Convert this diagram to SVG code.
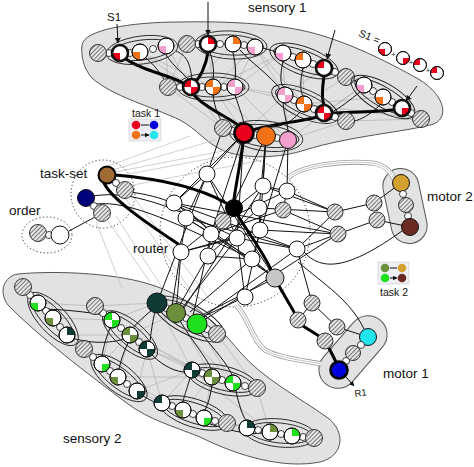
<svg xmlns="http://www.w3.org/2000/svg" width="474" height="467" viewBox="0 0 474 467">
<defs>
<pattern id="hatch" patternUnits="userSpaceOnUse" width="3" height="3" patternTransform="rotate(45)"><rect width="3" height="3" fill="#e6e6e6"/><line x1="0.5" y1="0" x2="0.5" y2="3" stroke="#777" stroke-width="1"/></pattern>
<marker id="ah" viewBox="0 0 10 10" refX="9" refY="5" markerWidth="6" markerHeight="6" orient="auto"><path d="M0,0 L10,5 L0,10 Z" fill="#111"/></marker>
<marker id="ahs" viewBox="0 0 10 10" refX="9" refY="5" markerWidth="5" markerHeight="5" orient="auto"><path d="M0,0 L10,5 L0,10 Z" fill="#111"/></marker>
<path id="qbr" d="M0,0H8A8,8 0 0 1 0,8Z"/>
<path id="qbl" d="M0,0V8A8,8 0 0 1 -8,0Z"/>
<path id="qtl" d="M0,0H-8A8,8 0 0 1 0,-8Z"/>
<path id="qtr" d="M0,0V-8A8,8 0 0 1 8,0Z"/>
<path id="sbr" d="M0,0H6.5A6.5,6.5 0 0 1 0,6.5Z"/>
<path id="sbl" d="M0,0V6.5A6.5,6.5 0 0 1 -6.5,0Z"/>
<path id="stl" d="M0,0H-6.5A6.5,6.5 0 0 1 0,-6.5Z"/>
<path id="str" d="M0,0V-6.5A6.5,6.5 0 0 1 6.5,0Z"/>
</defs>
<style>
.bl{fill:#e2e2e2;stroke:#555;stroke-width:1}
.dot{fill:none;stroke:#333;stroke-width:1;stroke-dasharray:1.2 2.4}
.g{fill:none;stroke:#a8a8a8;stroke-width:.6}
.lg{fill:none;stroke:#c4c4c4;stroke-width:.8}
.k{fill:none;stroke:#111;stroke-width:1}
.tk{fill:none;stroke:#000;stroke-width:3;stroke-linecap:round}
.tr1{fill:none;stroke:#9a9a9a;stroke-width:5}
.tr2{fill:none;stroke:#fff;stroke-width:3.4}
.tr3{fill:none;stroke:#aaa;stroke-width:.7}
.ring{fill:none;stroke:#222;stroke-width:.9}
.n{fill:#fff;stroke:#111;stroke-width:1}
.h{fill:url(#hatch);stroke:#333;stroke-width:1}
.o{fill:none;stroke:#111;stroke-width:1}
.t{stroke-width:2.6}
.s{fill:#fff;stroke:#111;stroke-width:.8}
.red{fill:#e8001c}.org{fill:#f47216}.pnk{fill:#f4a0cf}
.grn{fill:#1fe01f}.olv{fill:#6b8f3a}.dk{fill:#0f3b36}
.lbl{font-family:"Liberation Sans",Arial,sans-serif;font-size:13.5px;fill:#111}
.sm{font-family:"Liberation Sans",Arial,sans-serif;font-size:10.5px;fill:#111}
</style>

<!-- background regions -->
<g id="region-sensory1"><path class="bl" d="M82,45 C84,30 130,22 180,22 C230,21 270,24 300,30 C340,38 385,60 420,80 C440,92 452,115 434,124 C405,132 350,136 305,150 C280,158 245,160 222,150 C205,142 198,130 180,120 C150,106 112,96 92,78 C83,68 81,55 82,45 Z"/></g>
<g id="region-sensory2"><path class="bl" d="M18,274 C60,270 120,274 152,285 C190,297 215,322 240,352 C262,378 300,398 328,418 C346,432 344,456 320,462 C285,469 240,457 200,437 C170,425 150,420 128,404 C88,374 38,336 8,305 C-2,292 4,276 18,274 Z"/></g>
<g id="region-motor2"><rect class="bl" x="-18" y="-38" width="36" height="76" rx="18" transform="translate(405,206) rotate(-12)"/></g>
<g id="region-motor1"><rect class="bl" x="-19" y="-42" width="38" height="84" rx="19" transform="translate(353,352) rotate(41)"/></g>
<g id="region-router"><circle class="dot" cx="235" cy="232" r="75"/></g>
<g id="region-taskset"><ellipse class="dot" cx="103" cy="194" rx="32" ry="34"/></g>
<g id="region-order"><ellipse class="dot" cx="47" cy="235" rx="25" ry="18"/></g>

<g id="connectors">
<path class="tr1" d="M288,178 C300,166 340,160 372,163 C386,165 391,172 394,179"/>
<path class="tr2" d="M288,178 C300,166 340,160 372,163 C386,165 391,172 394,179"/>
<path class="tr3" d="M288,178 C300,166 340,160 372,163 C386,165 391,172 394,179"/>
<path class="tr1" d="M236,305 C250,320 252,340 265,350 C280,358 300,360 322,364"/>
<path class="tr2" d="M236,305 C250,320 252,340 265,350 C280,358 300,360 322,364"/>
<path class="tr3" d="M236,305 C250,320 252,340 265,350 C280,358 300,360 322,364"/>
<path class="lg" d="M112,170 L215,140 M115,172 L228,150 M118,176 L245,152 M108,166 L190,136 M128,186 L262,160"/>
<path class="lg" d="M108,221 L150,282 M116,216 L165,292 M126,199 L192,292 M96,222 L122,288 M132,195 L210,300"/>
<path class="g" d="M166,46 L168,87 M166,46 L191,87 M140,52 L213,87 M140,52 L191,87 M187,44 L168,87 M208,44 L213,87 M233,44 L191,87 M233,44 L235,87 M255,47 L235,87 M255,47 L213,87 M255,47 L283,53 M255,47 L285,95 M235,87 L285,95 M235,87 L283,53 M235,87 L304,104 M213,87 L266,136 M235,87 L288,140 M191,87 L223,128 M213,87 L244,133 M283,53 L285,95 M303,60 L304,104 M324,68 L285,95 M346,77 L364,85 M346,77 L304,104 M346,121 L421,119 M324,113 L364,85 M304,104 L383,97 M324,68 L383,97 M285,95 L288,140 M304,104 L266,136 M285,95 L244,133 M364,85 L288,140 M346,121 L288,140 M168,87 L223,128 M187,44 L166,46 M303,60 L364,85 M283,53 L213,87 M255,47 L304,104 M324,113 L402,108 M304,104 L421,119"/>
<path class="k" d="M146,58 C160,70 162,78 165,80 M166,55 C175,68 185,75 189,80 M210,52 C214,65 214,75 213,79 M233,53 C236,65 236,75 235,79 M263,48 C270,50 274,51 276,52 M213,95 C215,110 219,116 221,120 M235,95 C240,110 243,118 244,124 M283,61 C280,75 280,85 284,87 M303,68 C300,80 300,92 303,96 M283,103 C285,120 288,125 288,132 M300,112 C290,125 275,128 268,127 M360,92 C350,100 340,108 332,112 M380,105 C370,115 360,120 354,121 M354,80 C358,83 360,82 361,78 M240,50 C250,62 270,75 281,90 M176,51 C185,55 190,60 192,80"/>
<path class="k" d="M223,128 L207,174 M244,133 L207,174 M244,133 L174,203 M244,133 L211,234 M244,133 L237,238 M266,136 L263,186 M266,136 L259,208 M266,136 L260,230 M266,136 L208,256 M288,140 L287,191 M288,140 L252,259 M207,174 L174,203 M207,174 L237,238 M207,174 L275,278 M207,174 L186,218 M263,186 L335,212 M263,186 L287,191 M263,186 L181,252 M287,191 L335,212 M287,191 L223,221 M287,191 L283,210 M174,203 L186,218 M174,203 L338,234 M174,203 L275,278 M186,218 L211,234 M186,218 L297,249 M186,218 L252,259 M259,208 L335,212 M259,208 L208,256 M259,208 L260,230 M283,210 L338,234 M283,210 L211,234 M260,230 L338,234 M260,230 L245,297 M260,230 L181,252 M211,234 L275,278 M211,234 L208,256 M237,238 L297,249 M237,238 L245,297 M237,238 L181,252 M208,256 L252,259 M252,259 L275,278 M297,249 L335,212 M297,249 L312,303 M297,249 L338,234 M223,221 L297,249 M174,203 L223,221"/>
<path class="k" d="M181,252 L176,313 M208,256 L178,308 M252,259 L190,312 M275,278 L196,318 M245,297 L200,318 M237,238 L183,307 M211,234 L193,316 M297,249 L199,320 M186,218 L172,306 M263,186 L184,308 M207,174 L157,303 M338,234 L201,322"/>
<path class="k" d="M335,212 L374,203 M338,234 L377,220 M374,203 L401,183 M377,220 L410,227 M300,247 C320,275 350,268 402,231 M298,262 C325,285 350,300 364,329 M312,303 L337,327 M337,327 L368,337 M312,303 L298,320"/>
<path class="k" d="M69,231 L95,217 M93,196 C130,190 170,205 237,238 M96,204 C130,200 180,225 252,259 M130,192 C160,196 190,205 211,234"/>
<path class="g" d="M38,303 L95,306 M53,318 L112,320 M67,335 L130,335 M67,335 L84,349 M53,318 L102,364 M112,320 L102,364 M130,335 L118,377 M147,349 L137,391 M95,306 L157,303 M112,320 L157,303 M130,335 L176,313 M147,349 L192,370 M137,391 L192,370 M137,391 L162,403 M147,349 L162,403 M118,377 L212,377 M157,303 L192,370 M176,313 L212,377 M197,324 L233,383 M217,334 L257,388 M192,370 L162,403 M212,377 L183,410 M233,383 L247,428 M257,388 L270,432 M183,410 L247,428 M204,418 L270,432 M227,423 L292,436 M212,377 L204,418 M102,364 L157,303 M112,320 L192,370 M130,335 L212,377 M118,377 L183,410 M147,349 L233,383 M192,370 L270,432 M157,303 L233,383"/>
<path class="k" d="M152,355 C165,368 178,372 185,372 M150,341 C152,325 154,315 155,312 M143,396 C150,400 154,402 155,402 M152,310 C140,320 135,325 133,328 M190,378 C185,395 183,400 183,402 M212,385 C210,400 206,408 205,410 M236,391 C240,410 244,418 246,420 M210,424 C235,432 250,435 262,433 M180,321 C195,345 208,360 211,369 M200,332 C215,350 228,365 232,375 M110,328 C105,340 103,350 102,356 M128,343 C122,355 120,365 119,369 M72,338 C95,345 115,342 124,339 M45,309 C70,310 85,312 105,315"/>
<path class="tk" d="M126,59 C140,70 170,75 185,84"/>
<path class="tk" d="M208,52 C206,66 200,78 194,83"/>
<path class="tk" d="M194,95 C205,108 230,118 239,126"/>
<path class="tk" d="M324,76 C322,90 322,100 324,105"/>
<path class="tk" d="M394,110 C375,112 350,112 332,113"/>
<path class="tk" d="M317,117 C300,122 270,124 253,130"/>
<path class="tk" d="M243,143 C240,165 236,185 234,199"/>
<path class="tk" d="M238,216 C250,235 265,255 271,270"/>
<path class="tk" d="M279,286 L294,312 M303,326 L319,336 M329,348 L336,362"/>
<path class="tk" d="M115,175 C150,178 195,185 226,203"/>
<path class="tk" d="M104,183 C112,200 150,225 178,244"/>
<path class="k" d="M117,24 L118,43" marker-end="url(#ah)"/>
<path class="k" d="M208,2 L208,35" marker-end="url(#ah)"/>
<path class="k" d="M335,30 L327,59" marker-end="url(#ah)"/>
<path class="k" d="M417,86 L406,101" marker-end="url(#ah)"/>
<path class="k" d="M346,377 L354,386" marker-end="url(#ahs)"/>
</g>

<g id="cluster-A">
<ellipse class="ring" cx="142" cy="50" rx="32" ry="10" transform="rotate(-7 142 50)"/><ellipse class="ring" cx="142" cy="50" rx="36" ry="14" transform="rotate(-7 142 50)"/>
<circle class="s" cx="109" cy="53" r="3.5"/><circle class="s" cx="130" cy="53" r="3.5"/><circle class="s" cx="153" cy="49" r="3.5"/>
<g id="A0"><circle class="h" cx="98" cy="53" r="8.5"/></g>
<g id="A1"><circle class="n" cx="120" cy="53" r="8"/><use href="#qbl" x="120" y="53" class="red"/><circle class="o t" cx="120" cy="53" r="8"/></g>
<g id="A2"><circle class="n" cx="140" cy="52" r="8"/><use href="#qbl" x="140" y="52" class="org"/><circle class="o" cx="140" cy="52" r="8"/></g>
<g id="A3"><circle class="n" cx="166" cy="46" r="8"/><use href="#qbl" x="166" y="46" class="pnk"/><circle class="o" cx="166" cy="46" r="8"/></g>
</g>
<g id="cluster-B">
<ellipse class="ring" cx="231" cy="45" rx="32" ry="10" transform="rotate(3 231 45)"/><ellipse class="ring" cx="231" cy="45" rx="36" ry="14" transform="rotate(3 231 45)"/>
<circle class="s" cx="198" cy="44" r="3.5"/><circle class="s" cx="220" cy="44" r="3.5"/><circle class="s" cx="244" cy="45" r="3.5"/>
<g id="B0"><circle class="h" cx="187" cy="44" r="8.5"/></g>
<g id="B1"><circle class="n" cx="208" cy="44" r="8"/><use href="#qtr" x="208" y="44" class="red"/><circle class="o t" cx="208" cy="44" r="8"/></g>
<g id="B2"><circle class="n" cx="233" cy="44" r="8"/><use href="#qtr" x="233" y="44" class="org"/><circle class="o" cx="233" cy="44" r="8"/></g>
<g id="B3"><circle class="n" cx="255" cy="47" r="8"/><use href="#qbl" x="255" y="47" class="pnk"/><circle class="o" cx="255" cy="47" r="8"/></g>
</g>
<g id="cluster-C">
<ellipse class="ring" cx="213" cy="87" rx="32" ry="10"/><ellipse class="ring" cx="213" cy="87" rx="36" ry="14"/>
<circle class="s" cx="180" cy="87" r="3.5"/><circle class="s" cx="202" cy="87" r="3.5"/><circle class="s" cx="224" cy="87" r="3.5"/>
<g id="C0"><circle class="h" cx="168" cy="87" r="8.5"/></g>
<g id="C1"><circle class="n" cx="191" cy="87" r="8"/><use href="#qtl" x="191" y="87" class="red"/><use href="#qbr" x="191" y="87" class="red"/><circle class="o t" cx="191" cy="87" r="8"/></g>
<g id="C2"><circle class="n" cx="213" cy="87" r="8"/><use href="#qtl" x="213" y="87" class="org"/><use href="#qbr" x="213" y="87" class="org"/><circle class="o" cx="213" cy="87" r="8"/></g>
<g id="C3"><circle class="n" cx="235" cy="87" r="8"/><use href="#qtl" x="235" y="87" class="pnk"/><use href="#qbr" x="235" y="87" class="pnk"/><circle class="o" cx="235" cy="87" r="8"/></g>
</g>
<g id="cluster-D">
<ellipse class="ring" cx="266" cy="136" rx="33" ry="11" transform="rotate(7 266 136)"/><ellipse class="ring" cx="266" cy="136" rx="37" ry="15" transform="rotate(7 266 136)"/>
<circle class="s" cx="233" cy="131" r="3.5"/><circle class="s" cx="255" cy="135" r="3.5"/><circle class="s" cx="277" cy="138" r="3.5"/>
<g id="D0"><circle class="h" cx="223" cy="128" r="8.5"/></g>
<g id="D1"><circle class="red" cx="244" cy="133" r="9.5" stroke="#000" stroke-width="2.6"/></g>
<g id="D2"><circle class="org" cx="266" cy="136" r="9.5" stroke="#111" stroke-width="1"/></g>
<g id="D3"><circle class="pnk" cx="288" cy="140" r="8.5" stroke="#111" stroke-width="1"/></g>
</g>
<g id="cluster-E">
<ellipse class="ring" cx="304" cy="61" rx="32" ry="10" transform="rotate(20 304 61)"/><ellipse class="ring" cx="304" cy="61" rx="36" ry="14" transform="rotate(20 304 61)"/>
<circle class="s" cx="293" cy="57" r="3.5"/><circle class="s" cx="313" cy="64" r="3.5"/><circle class="s" cx="335" cy="72" r="3.5"/>
<g id="E0"><circle class="h" cx="346" cy="77" r="8.5"/></g>
<g id="E1"><circle class="n" cx="324" cy="68" r="8"/><use href="#qtl" x="324" y="68" class="red"/><circle class="o t" cx="324" cy="68" r="8"/></g>
<g id="E2"><circle class="n" cx="303" cy="60" r="8"/><use href="#qtl" x="303" y="60" class="org"/><circle class="o" cx="303" cy="60" r="8"/></g>
<g id="E3"><circle class="n" cx="283" cy="53" r="8"/><use href="#qbl" x="283" y="53" class="pnk"/><circle class="o" cx="283" cy="53" r="8"/></g>
</g>
<g id="cluster-F">
<ellipse class="ring" cx="305" cy="104" rx="32" ry="10" transform="rotate(24 305 104)"/><ellipse class="ring" cx="305" cy="104" rx="36" ry="14" transform="rotate(24 305 104)"/>
<circle class="s" cx="294" cy="100" r="3.5"/><circle class="s" cx="314" cy="109" r="3.5"/><circle class="s" cx="335" cy="117" r="3.5"/>
<g id="F0"><circle class="h" cx="346" cy="121" r="8.5"/></g>
<g id="F1"><circle class="n" cx="324" cy="113" r="8"/><use href="#qtl" x="324" y="113" class="red"/><use href="#qbr" x="324" y="113" class="red"/><circle class="o t" cx="324" cy="113" r="8"/></g>
<g id="F2"><circle class="n" cx="304" cy="104" r="8"/><use href="#qtl" x="304" y="104" class="org"/><use href="#qbr" x="304" y="104" class="org"/><circle class="o" cx="304" cy="104" r="8"/></g>
<g id="F3"><circle class="n" cx="285" cy="95" r="8"/><use href="#qtl" x="285" y="95" class="pnk"/><use href="#qbr" x="285" y="95" class="pnk"/><circle class="o" cx="285" cy="95" r="8"/></g>
</g>
<g id="cluster-G">
<ellipse class="ring" cx="383" cy="97" rx="32" ry="10" transform="rotate(30 383 97)"/><ellipse class="ring" cx="383" cy="97" rx="36" ry="14" transform="rotate(30 383 97)"/>
<circle class="s" cx="373" cy="91" r="3.5"/><circle class="s" cx="392" cy="102" r="3.5"/><circle class="s" cx="411" cy="113" r="3.5"/>
<g id="G0"><circle class="h" cx="421" cy="119" r="8.5"/></g>
<g id="G1"><circle class="n" cx="402" cy="108" r="8"/><use href="#qbr" x="402" y="108" class="red"/><circle class="o t" cx="402" cy="108" r="8"/></g>
<g id="G2"><circle class="n" cx="383" cy="97" r="8"/><use href="#qbl" x="383" y="97" class="org"/><circle class="o" cx="383" cy="97" r="8"/></g>
<g id="G3"><circle class="n" cx="364" cy="85" r="8"/><use href="#qbl" x="364" y="85" class="pnk"/><circle class="o" cx="364" cy="85" r="8"/></g>
</g>

<g id="S1-seq">
<g id="S1-1"><circle class="n" cx="385" cy="49" r="6.5"/><use href="#sbl" x="385" y="49" class="red"/><circle class="o" cx="385" cy="49" r="6.5"/></g>
<g id="S1-2"><circle class="n" cx="403" cy="58" r="6.5"/><use href="#sbr" x="403" y="58" class="red"/><circle class="o" cx="403" cy="58" r="6.5"/></g>
<g id="S1-3"><circle class="n" cx="420" cy="65" r="6.5"/><use href="#stl" x="420" y="65" class="red"/><circle class="o" cx="420" cy="65" r="6.5"/></g>
<g id="S1-4"><circle class="n" cx="437" cy="73" r="6.5"/><use href="#stl" x="437" y="73" class="red"/><circle class="o" cx="437" cy="73" r="6.5"/></g>
<text class="sm" style="font-size:7px" x="391.5" y="57">+</text>
<text class="sm" style="font-size:7px" x="409" y="65">+</text>
<text class="sm" style="font-size:7px" x="426" y="73">+</text>
</g>

<g id="taskset-brown"><circle cx="107" cy="175" r="8.5" fill="#a06a35" stroke="#000" stroke-width="2"/></g>
<g id="taskset-s1"><circle class="s" cx="116" cy="183" r="3.5"/></g>
<g id="taskset-h1"><circle class="h" cx="125" cy="190" r="8.5"/></g>
<g id="taskset-navy"><circle cx="86" cy="198" r="8.5" fill="#00007a" stroke="#111" stroke-width="1"/></g>
<g id="taskset-s2"><circle class="s" cx="94" cy="206" r="3.5"/></g>
<g id="taskset-h2"><circle class="h" cx="102" cy="213" r="8.5"/></g>
<g id="order-h"><circle class="h" cx="38" cy="233" r="8.5"/></g>
<g id="order-s"><circle class="s" cx="49" cy="235" r="3.5"/></g>
<g id="order-w"><circle class="n" cx="60" cy="235" r="9"/></g>

<g id="r1"><circle class="n" cx="207" cy="174" r="8"/></g>
<g id="r2"><circle class="n" cx="263" cy="186" r="8"/></g>
<g id="r3"><circle class="n" cx="287" cy="191" r="8"/></g>
<g id="r4"><circle class="n" cx="174" cy="203" r="8"/></g>
<g id="r5"><circle class="n" cx="186" cy="218" r="8"/></g>
<g id="r6"><circle class="n" cx="259" cy="208" r="8"/></g>
<g id="rh1"><circle class="h" cx="283" cy="210" r="8"/></g>
<g id="rh2"><circle class="h" cx="223" cy="221" r="8"/></g>
<g id="r7"><circle class="n" cx="260" cy="230" r="8"/></g>
<g id="r8"><circle class="n" cx="211" cy="234" r="8"/></g>
<g id="r9"><circle class="n" cx="237" cy="238" r="8"/></g>
<g id="r10"><circle class="n" cx="181" cy="252" r="8"/></g>
<g id="r11"><circle class="n" cx="208" cy="256" r="8"/></g>
<g id="r12"><circle class="n" cx="252" cy="259" r="8"/></g>
<g id="r13"><circle class="n" cx="297" cy="249" r="8"/></g>
<g id="r14"><circle class="n" cx="245" cy="297" r="8"/></g>
<g id="r-black"><circle cx="234" cy="208" r="9" fill="#000"/></g>
<g id="r-gray"><circle cx="275" cy="278" r="9" fill="#c6c6c6" stroke="#111" stroke-width="1"/></g>
<g id="rh3"><circle class="h" cx="312" cy="303" r="8"/></g>

<g id="x1"><circle class="h" cx="335" cy="212" r="8"/></g>
<g id="x2"><circle class="h" cx="338" cy="234" r="8"/></g>
<g id="x3"><circle class="h" cx="374" cy="203" r="8"/></g>
<g id="x4"><circle class="h" cx="377" cy="220" r="8"/></g>
<g id="y1"><circle class="h" cx="337" cy="327" r="8"/></g>
<g id="t1"><circle class="h" cx="298" cy="320" r="8" stroke="#000" stroke-width="2.6"/></g>
<g id="t2"><circle class="h" cx="325" cy="341" r="8" stroke="#000" stroke-width="2.6"/></g>

<g id="m2-gold"><circle cx="401" cy="183" r="8.5" fill="#d4a030" stroke="#111" stroke-width="1"/></g>
<g id="m2-s1"><circle class="s" cx="403" cy="194" r="3.5"/></g>
<g id="m2-h"><circle class="h" cx="406" cy="205" r="7.5"/></g>
<g id="m2-s2"><circle class="s" cx="408" cy="216" r="3.5"/></g>
<g id="m2-brown"><circle cx="410" cy="227" r="8.5" fill="#6b2a24" stroke="#111" stroke-width="1"/></g>

<g id="m1-cyan"><circle cx="368" cy="337" r="8.5" fill="#22e5ee" stroke="#111" stroke-width="1"/></g>
<g id="m1-s1"><circle class="s" cx="361" cy="345" r="3.5"/></g>
<g id="m1-h"><circle class="h" cx="353" cy="353" r="7.5"/></g>
<g id="m1-s2"><circle class="s" cx="346" cy="361" r="3.5"/></g>
<g id="m1-blue"><circle cx="339" cy="370" r="8.5" fill="#0000dd" stroke="#000" stroke-width="2.6"/></g>

<g id="cluster-H">
<ellipse class="ring" cx="53" cy="319" rx="30" ry="10" transform="rotate(47 53 319)"/><ellipse class="ring" cx="53" cy="319" rx="34" ry="14" transform="rotate(47 53 319)"/>
<circle class="s" cx="30" cy="295" r="3.5"/><circle class="s" cx="46" cy="311" r="3.5"/><circle class="s" cx="60" cy="327" r="3.5"/>
<g id="H0"><circle class="h" cx="23" cy="287" r="8.5"/></g>
<g id="H1"><circle class="n" cx="38" cy="303" r="8"/><use href="#qbl" x="38" y="303" class="grn"/><circle class="o" cx="38" cy="303" r="8"/></g>
<g id="H2"><circle class="n" cx="53" cy="318" r="8"/><use href="#qbl" x="53" y="318" class="olv"/><circle class="o" cx="53" cy="318" r="8"/></g>
<g id="H3"><circle class="n" cx="67" cy="335" r="8"/><use href="#qtr" x="67" y="335" class="dk"/><circle class="o" cx="67" cy="335" r="8"/></g>
</g>
<g id="cluster-I">
<ellipse class="ring" cx="130" cy="335" rx="30" ry="10" transform="rotate(40 130 335)"/><ellipse class="ring" cx="130" cy="335" rx="34" ry="14" transform="rotate(40 130 335)"/>
<circle class="s" cx="103" cy="313" r="3.5"/><circle class="s" cx="121" cy="328" r="3.5"/><circle class="s" cx="139" cy="342" r="3.5"/>
<g id="I0"><circle class="h" cx="95" cy="306" r="8.5"/></g>
<g id="I1"><circle class="n" cx="112" cy="320" r="8"/><use href="#qtl" x="112" y="320" class="grn"/><use href="#qbr" x="112" y="320" class="grn"/><circle class="o" cx="112" cy="320" r="8"/></g>
<g id="I2"><circle class="n" cx="130" cy="335" r="8"/><use href="#qtl" x="130" y="335" class="olv"/><use href="#qbr" x="130" y="335" class="olv"/><circle class="o" cx="130" cy="335" r="8"/></g>
<g id="I3"><circle class="n" cx="147" cy="349" r="8"/><use href="#qtl" x="147" y="349" class="dk"/><use href="#qbr" x="147" y="349" class="dk"/><circle class="o" cx="147" cy="349" r="8"/></g>
</g>
<g id="cluster-J">
<ellipse class="ring" cx="119" cy="378" rx="30" ry="10" transform="rotate(38 119 378)"/><ellipse class="ring" cx="119" cy="378" rx="34" ry="14" transform="rotate(38 119 378)"/>
<circle class="s" cx="93" cy="357" r="3.5"/><circle class="s" cx="110" cy="371" r="3.5"/><circle class="s" cx="127" cy="384" r="3.5"/>
<g id="J0"><circle class="h" cx="84" cy="349" r="8.5"/></g>
<g id="J1"><circle class="n" cx="102" cy="364" r="8"/><use href="#qbr" x="102" y="364" class="grn"/><circle class="o" cx="102" cy="364" r="8"/></g>
<g id="J2"><circle class="n" cx="118" cy="377" r="8"/><use href="#qbl" x="118" y="377" class="olv"/><circle class="o" cx="118" cy="377" r="8"/></g>
<g id="J3"><circle class="n" cx="137" cy="391" r="8"/><use href="#qbr" x="137" y="391" class="dk"/><circle class="o" cx="137" cy="391" r="8"/></g>
</g>
<g id="cluster-K">
<ellipse class="ring" cx="189" cy="319" rx="36" ry="11" transform="rotate(28 189 319)"/><ellipse class="ring" cx="189" cy="319" rx="40" ry="15" transform="rotate(28 189 319)"/>
<circle class="s" cx="166" cy="308" r="3.5"/><circle class="s" cx="186" cy="318" r="3.5"/><circle class="s" cx="207" cy="329" r="3.5"/>
<g id="K0"><circle class="dk" cx="157" cy="303" r="10" stroke="#111" stroke-width="1"/></g>
<g id="K1"><circle class="olv" cx="176" cy="313" r="9.5" stroke="#111" stroke-width="1"/></g>
<g id="K2"><circle class="grn" cx="197" cy="324" r="10" stroke="#111" stroke-width="1"/></g>
<g id="K3"><circle class="h" cx="217" cy="334" r="8.5"/></g>
</g>
<g id="cluster-L">
<ellipse class="ring" cx="223" cy="380" rx="32" ry="10" transform="rotate(14 223 380)"/><ellipse class="ring" cx="223" cy="380" rx="36" ry="14" transform="rotate(14 223 380)"/>
<circle class="s" cx="202" cy="373" r="3.5"/><circle class="s" cx="222" cy="380" r="3.5"/><circle class="s" cx="245" cy="386" r="3.5"/>
<g id="L0"><circle class="n" cx="192" cy="370" r="8"/><use href="#qtl" x="192" y="370" class="dk"/><use href="#qbr" x="192" y="370" class="dk"/><circle class="o" cx="192" cy="370" r="8"/></g>
<g id="L1"><circle class="n" cx="212" cy="377" r="8"/><use href="#qtl" x="212" y="377" class="olv"/><use href="#qbr" x="212" y="377" class="olv"/><circle class="o" cx="212" cy="377" r="8"/></g>
<g id="L2"><circle class="n" cx="233" cy="383" r="8"/><use href="#qtl" x="233" y="383" class="grn"/><use href="#qbr" x="233" y="383" class="grn"/><circle class="o" cx="233" cy="383" r="8"/></g>
<g id="L3"><circle class="h" cx="257" cy="388" r="8.5"/></g>
</g>
<g id="cluster-M">
<ellipse class="ring" cx="194" cy="413" rx="32" ry="10" transform="rotate(18 194 413)"/><ellipse class="ring" cx="194" cy="413" rx="36" ry="14" transform="rotate(18 194 413)"/>
<circle class="s" cx="172" cy="406" r="3.5"/><circle class="s" cx="193" cy="414" r="3.5"/><circle class="s" cx="215" cy="421" r="3.5"/>
<g id="M0"><circle class="n" cx="162" cy="403" r="8"/><use href="#qtl" x="162" y="403" class="dk"/><circle class="o" cx="162" cy="403" r="8"/></g>
<g id="M1"><circle class="n" cx="183" cy="410" r="8"/><use href="#qbl" x="183" y="410" class="olv"/><circle class="o" cx="183" cy="410" r="8"/></g>
<g id="M2"><circle class="n" cx="204" cy="418" r="8"/><use href="#qbr" x="204" y="418" class="grn"/><circle class="o" cx="204" cy="418" r="8"/></g>
<g id="M3"><circle class="h" cx="227" cy="423" r="8.5"/></g>
</g>
<g id="cluster-N">
<ellipse class="ring" cx="280" cy="433" rx="32" ry="10" transform="rotate(6 280 433)"/><ellipse class="ring" cx="280" cy="433" rx="36" ry="14" transform="rotate(6 280 433)"/>
<circle class="s" cx="258" cy="430" r="3.5"/><circle class="s" cx="281" cy="434" r="3.5"/><circle class="s" cx="303" cy="437" r="3.5"/>
<g id="N0"><circle class="n" cx="247" cy="428" r="8"/><use href="#qtr" x="247" y="428" class="dk"/><circle class="o" cx="247" cy="428" r="8"/></g>
<g id="N1"><circle class="n" cx="270" cy="432" r="8"/><use href="#qtr" x="270" y="432" class="olv"/><circle class="o" cx="270" cy="432" r="8"/></g>
<g id="N2"><circle class="n" cx="292" cy="436" r="8"/><use href="#qtr" x="292" y="436" class="grn"/><circle class="o" cx="292" cy="436" r="8"/></g>
<g id="N3"><circle class="h" cx="314" cy="438" r="8.5"/></g>
</g>

<g id="legend-task1">
<rect x="129" y="119" width="32" height="22" fill="#eeeef4" stroke="#ccc" stroke-width=".6"/>
<circle class="red" cx="136" cy="125" r="4.3"/><circle cx="154" cy="125" r="4.3" fill="#0000dd"/>
<circle class="org" cx="136" cy="135" r="4.3"/><circle cx="154" cy="135" r="4.3" fill="#22e5ee"/>
<path class="k" d="M141,125 L149,125 M141,135 L149,135" marker-end="url(#ahs)"/>
</g>
<g id="legend-task2">
<rect x="378" y="262" width="31" height="22" fill="#eeeef4" stroke="#ccc" stroke-width=".6"/>
<circle class="olv" cx="385" cy="268" r="4.3"/><circle cx="402" cy="268" r="4.3" fill="#d4a030"/>
<circle class="grn" cx="385" cy="278" r="4.3"/><circle cx="402" cy="278" r="4.3" fill="#6b2a24"/>
<path class="k" d="M390,268 L397,268 M390,278 L397,278" marker-end="url(#ahs)"/>
</g>

<g id="labels">
<text class="lbl" x="248" y="12">sensory 1</text>
<text class="lbl" x="63" y="443">sensory 2</text>
<text class="lbl" x="427" y="201">motor 2</text>
<text class="lbl" x="383" y="378">motor 1</text>
<text class="lbl" x="40" y="178">task-set</text>
<text class="lbl" x="9" y="215">order</text>
<text class="lbl" x="133" y="253">router</text>
<text class="sm" x="132" y="117">task 1</text>
<text class="sm" x="380" y="296">task 2</text>
<text class="sm" style="font-size:11.5px" x="107" y="21">S1</text>
<text class="sm" transform="translate(358,36) rotate(22)">S1 =</text>
<text class="sm" style="font-size:9.5px" transform="translate(355,397) rotate(-8)">R1</text>
</g>
</svg>
